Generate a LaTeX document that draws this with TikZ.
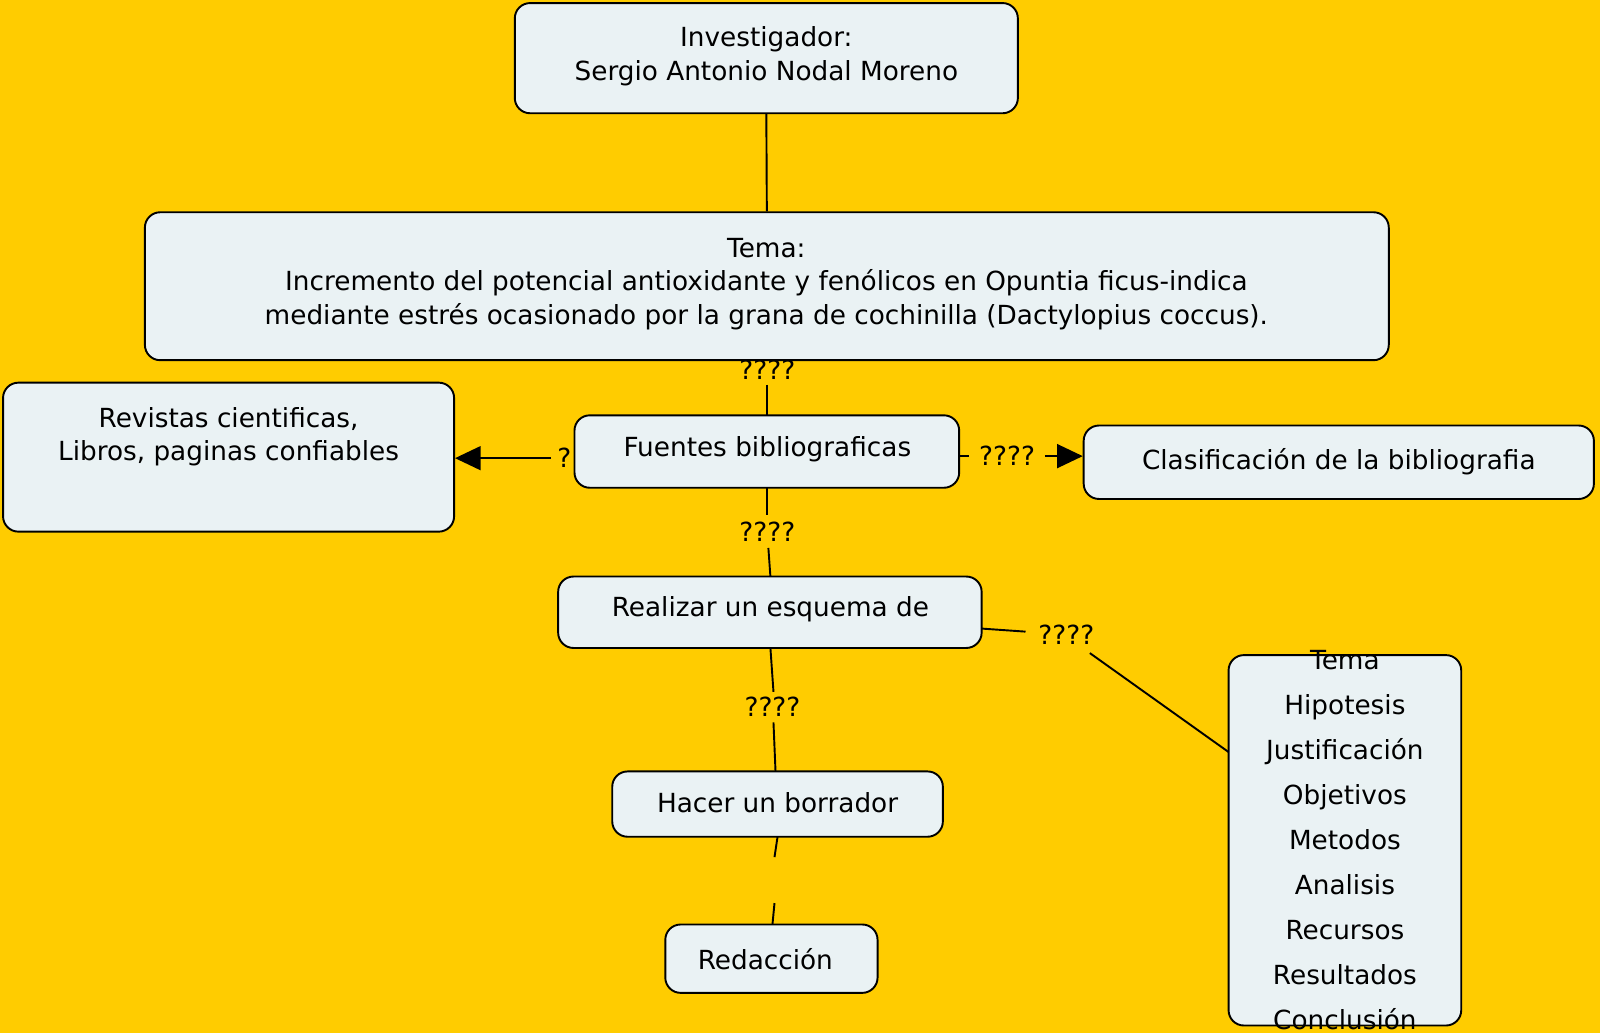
\documentclass[tikz,border=0pt]{standalone}
\usepackage{fontspec}
\setmainfont{DejaVu Sans}
\usetikzlibrary{arrows.meta}
\definecolor{bg}{HTML}{FFCC00}
\definecolor{boxfill}{HTML}{EAF2F4}
\begin{document}
\begin{tikzpicture}[x=0.03cm,y=-0.03cm,
  bx/.style={draw,line width=1.6pt,fill=boxfill,rounded corners=0.45cm,inner sep=0pt},
  tx/.style={font=\fontsize{22}{28}\selectfont,align=center,inner sep=0pt},
  lbl/.style={font=\fontsize{22}{28}\selectfont,inner sep=1pt},
  ln/.style={line width=1.6pt},
  ar/.style={line width=1.6pt,-{Triangle[length=0.75cm,width=0.7cm]}}]
\fill[bg] (0,0) rectangle (1568,1012);
\useasboundingbox (0,0) rectangle (1568,1012);
% boxes
\node[bx,minimum width=493*0.03cm,minimum height=108*0.03cm] (inv) at (751,57) {};
\node[tx] at (751,55) {Investigador:\\Sergio Antonio Nodal Moreno};
\node[bx,minimum width=1219*0.03cm,minimum height=145*0.03cm] (tema) at (751.5,280.5) {};
\node[tx] at (751,278) {Tema:\\Incremento del potencial antioxidante y fenólicos en Opuntia ficus-indica\\mediante estrés ocasionado por la grana de cochinilla (Dactylopius coccus).};
\node[bx,minimum width=442*0.03cm,minimum height=146*0.03cm] (rev) at (224,448) {};
\node[tx] at (224,428) {Revistas cientificas,\\Libros, paginas confiables};
\node[bx,minimum width=377*0.03cm,minimum height=71*0.03cm] (fue) at (751.5,442.5) {};
\node[tx] at (752,440) {Fuentes bibliograficas};
\node[bx,minimum width=500*0.03cm,minimum height=72*0.03cm] (cla) at (1312,453) {};
\node[tx] at (1312,452) {Clasificación de la bibliografia};
\node[bx,minimum width=415*0.03cm,minimum height=70*0.03cm] (rea) at (754.5,600) {};
\node[tx] at (755,597) {Realizar un esquema de};
\node[bx,minimum width=324*0.03cm,minimum height=64*0.03cm] (hac) at (762,788) {};
\node[tx] at (762,787) {Hacer un borrador};
\node[bx,minimum width=208*0.03cm,minimum height=67*0.03cm] (red) at (756,939.5) {};
\node[tx] at (750,940) {Redacción};
\node[bx,minimum width=228*0.03cm,minimum height=363*0.03cm] (lst) at (1318,823.5) {};
\node[tx,font=\fontsize{22}{37.6}\selectfont] at (1318,823) {Tema\\Hipotesis\\Justificación\\Objetivos\\Metodos\\Analisis\\Recursos\\Resultados\\Conclusión};
% labels
\node[lbl] (l1) at (752,362) {????};
\node[lbl] (l2) at (553,449) {?};
\node[lbl] (l3) at (987,447) {????};
\node[lbl] (l4) at (752,521) {????};
\node[lbl] (l5) at (1045,622) {????};
\node[lbl] (l6) at (757,693) {????};
\coordinate (l7a) at (759,840);
\coordinate (l7b) at (759,885);
% connectors
\draw[ln] (inv.south) -- (tema.north);
\draw[ln] (752,377) -- (752,407);
\draw[ar] (540,449) -- (rev.east |- 0,449);
\draw[ln] (fue.east |- 0,447) -- (950,447);
\draw[ar] (1024,447) -- (cla.west |- 0,447);
\draw[ln] (752,478) -- (752,505);
\draw[ln] (753,537) -- (755,565);
\draw[ln] (962,616) -- (1005,619);
\draw[ln] (1068,640) -- (1204,737);
\draw[ln] (755,635) -- (758,678);
\draw[ln] (758,708) -- (760,756);
\draw[ln] (762,820) -- (l7a);
\draw[ln] (l7b) -- (757,906);
\end{tikzpicture}
\end{document}
